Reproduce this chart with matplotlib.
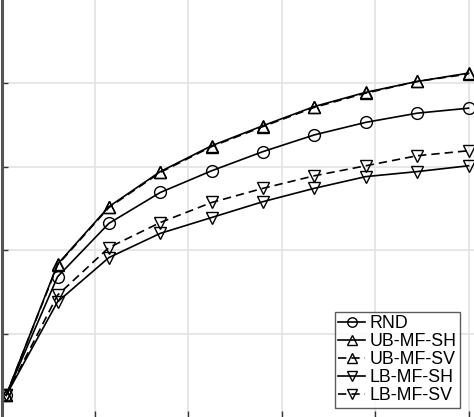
import matplotlib
matplotlib.use("Agg")
import matplotlib.pyplot as plt

x = [1, 12, 23, 34, 45, 56, 67, 78, 89, 100]
rnd = [0.26, 1.68, 2.32, 2.69, 2.95, 3.18, 3.38, 3.53, 3.64, 3.70]
ub_mf_sh = [0.26, 1.83, 2.52, 2.94, 3.25, 3.49, 3.72, 3.89, 4.02, 4.12]
ub_mf_sv = [0.26, 1.82, 2.51, 2.93, 3.24, 3.48, 3.71, 3.88, 4.02, 4.11]
lb_mf_sh = [0.26, 1.38, 1.91, 2.20, 2.39, 2.58, 2.74, 2.88, 2.94, 3.01]
lb_mf_sv = [0.26, 1.46, 2.03, 2.33, 2.57, 2.74, 2.89, 3.01, 3.13, 3.19]
labels = ["RND", "UB-MF-SH", "UB-MF-SV", "LB-MF-SH", "LB-MF-SV"]

W, H = 474, 417
fig = plt.figure(figsize=(W / 100, H / 100), dpi=100)
left = 1.5 / W
ax = fig.add_axes([left, 0, 1 - left, 1])

pxu_x = 4.67
pxu_y = 83.3
ax.set_xlim(0, (W - 1.5) / pxu_x)
ax.set_ylim(0, H / pxu_y - 0.01)

series = [rnd, ub_mf_sh, ub_mf_sv, lb_mf_sh, lb_mf_sv]
markers = ["o", "^", "^", "v", "v"]
styles = ["-", "-", "--", "-", "--"]
for ys, m, ls, lab in zip(series, markers, styles, labels):
    ax.plot(x, ys, linestyle=ls, marker=m, color="black", linewidth=1.2,
            markersize=8.5, markerfacecolor="none", markeredgecolor="black",
            markeredgewidth=1.0, label=lab, dashes=(5, 3) if ls == "--" else (None, None))

ax.set_xticks([0, 20, 40, 60, 80, 100])
ax.set_yticks([1, 2, 3, 4])
ax.grid(True, color="#e3e3e3", linewidth=1.2)
ax.set_axisbelow(True)
ax.tick_params(direction="in", length=4, width=1, color="#333333",
               labelbottom=False, labelleft=False)
for s in ["top", "right", "bottom"]:
    ax.spines[s].set_visible(False)
ax.spines["left"].set_color("#555555")
ax.spines["left"].set_linewidth(2.2)

leg = ax.legend(loc="lower right", bbox_to_anchor=(460 / W, 9 / H),
                bbox_transform=fig.transFigure,
                prop={"family": "Liberation Sans", "size": 12.8},
                frameon=True, fancybox=False, edgecolor="#333333",
                handlelength=1.5, handletextpad=0.25, labelspacing=0.06,
                borderpad=0.2, borderaxespad=0, markerscale=0.8)
leg.get_frame().set_linewidth(1.0)

fig.savefig("out.png", dpi=100)
